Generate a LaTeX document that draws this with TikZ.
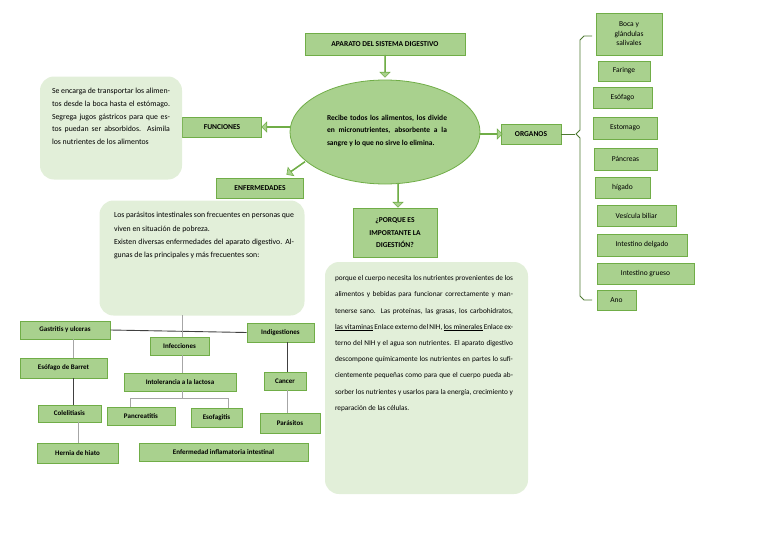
\documentclass[tikz,border=0pt]{standalone}
\usepackage{fontspec}
\setmainfont{Carlito}
\usetikzlibrary{shapes.geometric,shapes.arrows}
\definecolor{gbox}{HTML}{A9D18E}
\definecolor{gline}{HTML}{70AD47}
\definecolor{gpale}{HTML}{E2EFD9}
\tikzset{
 bx/.style={draw=gline,fill=gbox,line width=0.8pt,inner sep=0pt,font=\fontsize{7.5}{9}\selectfont\bfseries,align=center},
 pale/.style={fill=gpale,rounded corners=14pt,inner sep=0pt},
 barrow/.style={single arrow,draw=gline,fill=gbox,line width=0.6pt,single arrow head extend=3pt,minimum width=10pt,inner sep=0pt},
 conn/.style={line width=0.9pt,draw=black!75},
 connl/.style={line width=0.9pt,draw=black!35},
}
\begin{document}
\begin{tikzpicture}[x=1pt,y=-1pt]
\useasboundingbox (0,0) rectangle (768,543);
\node[bx,minimum width=160pt,minimum height=22pt] (title) at (385,44) {APARATO DEL SISTEMA DIGESTIVO};
\node[ellipse,draw=gline,fill=gbox,line width=0.8pt,minimum width=190pt,minimum height=104pt] (ell) at (385,132) {};
\node[text width=120pt,align=justify,font=\fontsize{7.5}{12.5}\selectfont\bfseries] (elltxt) at (387,131) {Recibe todos los alimentos, los divide en micronutrientes, absorbente a la sangre y lo que no sirve lo elimina.};
\node[bx,minimum width=79pt,minimum height=20pt] (fun) at (222,127) {FUNCIONES};
\node[bx,minimum width=87pt,minimum height=20pt] (enf) at (260,188) {ENFERMEDADES};
\node[bx,minimum width=60pt,minimum height=20pt] (org) at (531,134) {ORGANOS};
\node[bx,minimum width=84pt,minimum height=49pt,font=\fontsize{7.5}{12.5}\selectfont\bfseries] (por) at (395,233) {¿PORQUE ES\\IMPORTANTE LA\\DIGESTIÓN?};
% block arrows
\node[barrow,rotate=-90,minimum height=22pt] (a1) at (385,66) {};
\node[barrow,rotate=180,minimum height=28pt] (a2) at (276,127) {};
\node[barrow,rotate=0,minimum height=22pt] (a3) at (491,134) {};
\node[barrow,rotate=-90,minimum height=24pt] (a4) at (398,195) {};
\node[barrow,rotate=-145,minimum height=22pt] (a5) at (296,168) {};
% pale boxes
\node[pale,minimum width=142pt,minimum height=103pt] (funbox) at (111,128) {};
\begin{scope}
\clip (40,77) rectangle (182,172);
\node[text width=118pt,align=justify,font=\fontsize{7.8}{12.6}\selectfont,anchor=north] (funtxt) at (111,85) {Se encarga de transportar los alimentos desde la boca hasta el estómago. Segrega jugos gástricos para que estos puedan ser absorbidos. Asimila los nutrientes de los alimentos};
\end{scope}
\node[pale,minimum width=205pt,minimum height=115pt] (enfbox) at (202,258) {};
\node[text width=180pt,align=justify,font=\fontsize{7.8}{13.2}\selectfont,anchor=north] (enftxt) at (204,209) {Los parásitos intestinales son frecuentes en personas que viven en situación de pobreza.\\Existen diversas enfermedades del aparato digestivo. Algunas de las principales y más frecuentes son:};
\node[pale,minimum width=203pt,minimum height=232pt] (porbox) at (426.5,378) {};
\node[text width=178pt,align=justify,font=\fontsize{7.3}{16.2}\selectfont,anchor=north] (portxt) at (424,272) {porque el cuerpo necesita los nutrientes provenientes de los alimentos y bebidas para funcionar correctamente y mantenerse sano. Las proteínas, las grasas, los carbohidratos, \underline{las vitaminas} Enlace externo del NIH, \underline{los minerales} Enlace externo del NIH y el agua son nutrientes. El aparato digestivo descompone químicamente los nutrientes en partes lo suficientemente pequeñas como para que el cuerpo pueda absorber los nutrientes y usarlos para la energía, crecimiento y reparación de las células.};
% organs
\draw[line width=0.9pt,gline!70!black] (org.east) -- (575,134);
\draw[line width=0.9pt,gline!70!black] (592,36) -- (584,36) -- (580,40) -- (580,130) -- (576,134) -- (580,138) -- (580,296) -- (584,300) -- (592,300);
\tikzset{ob/.style={bx,font=\fontsize{7.5}{9.5}\selectfont}}
\node[ob,minimum width=66pt,minimum height=42pt] (o1) at (629,34) {Boca y\\glándulas\\salivales};
\node[ob,minimum width=52pt,minimum height=20pt] (o2) at (624,71) {Faringe};
\node[ob,minimum width=59pt,minimum height=21pt] (o3) at (622.5,97.5) {Esófago};
\node[ob,minimum width=64pt,minimum height=22pt] (o4) at (625,128) {Estomago};
\node[ob,minimum width=63pt,minimum height=22pt] (o5) at (625.5,159) {Páncreas};
\node[ob,minimum width=55pt,minimum height=21pt] (o6) at (622.5,187.5) {hígado};
\node[ob,minimum width=79pt,minimum height=21pt] (o7) at (636.5,215.5) {Vesícula biliar};
\node[ob,minimum width=90pt,minimum height=22pt] (o8) at (642,245) {Intestino delgado};
\node[ob,minimum width=97pt,minimum height=21pt] (o9) at (645.5,273.5) {Intestino grueso};
\node[ob,minimum width=39pt,minimum height=20pt] (o10) at (616.5,300) {Ano};
% diseases
\tikzset{db/.style={bx,font=\fontsize{7}{9}\selectfont\bfseries}}
\node[db,minimum width=90pt,minimum height=18pt] (gas) at (65,330) {Gastritis y ulceras};
\node[db,minimum width=67pt,minimum height=19pt] (ind) at (280.5,332.5) {Indigestiones};
\node[db,minimum width=59pt,minimum height=18pt] (inf) at (179.5,346) {Infecciones};
\node[db,minimum width=87pt,minimum height=20pt] (esb) at (63.5,368) {Esófago de Barret};
\node[db,minimum width=112pt,minimum height=18pt] (int) at (180,382) {Intolerancia a la lactosa};
\node[db,minimum width=42pt,minimum height=18pt] (can) at (285,381) {Cancer};
\node[db,minimum width=63pt,minimum height=17pt] (col) at (69.5,413.5) {Colelitiasis};
\node[db,minimum width=68pt,minimum height=18pt] (pan) at (141,416) {Pancreatitis};
\node[db,minimum width=51pt,minimum height=19pt] (esf) at (216.5,417.5) {Esofagitis};
\node[db,minimum width=60pt,minimum height=20pt] (par) at (290,423) {Parásitos};
\node[db,minimum width=81pt,minimum height=20pt] (her) at (77.5,453) {Hernia de hiato};
\node[db,minimum width=169pt,minimum height=18pt] (eii) at (223.5,452) {Enfermedad inflamatoria intestinal};
\draw[conn] (gas.east) -- (ind.west);
\draw[connl] (182,315) -- (182,337);
\draw[connl] (182,355) -- (182,373);
\draw[connl] (73,339) -- (73,358);
\draw[conn] (73,378) -- (73,405);
\draw[connl] (78,422) -- (78,443);
\draw[conn] (287,342) -- (287,372);
\draw[connl] (287,390) -- (287,413);
\draw[connl] (182,391) -- (182,398) -- (130,398) -- (130,407);
\draw[connl] (182,398) -- (228,398) -- (228,408);
\end{tikzpicture}
\end{document}
